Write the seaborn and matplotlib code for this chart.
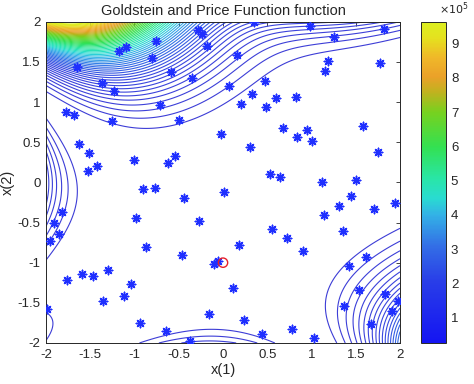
import numpy as np
import pandas as pd
import matplotlib
matplotlib.use("Agg")
import matplotlib.pyplot as plt
from matplotlib.colors import LinearSegmentedColormap, Normalize
import matplotlib.cm as cm
import seaborn as sns

# sample points
px = [-1.646, -1.175, -1.10, -0.753, -0.802, -0.588, -0.282, -0.234, -0.177, -0.354,
      -1.371, -1.235, -0.708, -1.777, -1.68, -1.258, -0.50, -0.019, -1.624, -1.518,
      -1.529, -1.427, -1.009, -0.621, -0.539, -0.907, -0.765, -0.44, 0.011, 0.155,
      0.071, 0.20, 0.354, 0.983, 1.258, 1.816, 1.19, 1.156, 1.778, 0.478,
      0.324, 0.603, 0.821, 0.486, 0.682, 0.949, 0.840, 1.002, 1.582, 1.751,
      0.301, 0.531, 0.648, 1.119, 1.499, 1.446, 1.311, 1.703, 1.944, 1.141,
      1.356, 0.554, 0.72, 0.904, 0.181, -0.102, -0.053, 1.616, 1.42, 0.113,
      1.533, 1.834, 1.974, 1.371, 1.91, 1.676, -0.158, 0.237, 0.437, 0.776,
      1.032, -1.823, -1.906, -1.857, -1.955, -0.986, -0.275, -0.874, -0.463, -1.296,
      -1.589, -1.465, -1.759, -1.043, -1.122, -1.356, -1.985, -0.934, -0.648, -0.373]
py = [1.433, 1.64, 1.69, 1.755, 1.545, 1.371, 1.898, 1.848, 1.702, 1.30,
      1.234, 1.142, 0.96, 0.873, 0.839, 0.765, 0.777, 0.607, 0.478, 0.366,
      0.142, 0.204, 0.279, 0.242, 0.329, -0.086, -0.066, -0.194, -0.123, 1.587,
      1.204, 0.98, 1.99, 1.948, 1.815, 1.91, 1.516, 1.383, 1.487, 1.263,
      1.105, 1.047, 1.067, 0.935, 0.681, 0.656, 0.565, 0.52, 0.698, 0.379,
      0.445, 0.109, 0.067, 0.001, 0.03, -0.167, -0.298, -0.331, -0.252, -0.402,
      -0.601, -0.580, -0.692, -0.85, -0.78, -1.02, -0.983, -0.929, -1.045, -1.311,
      -1.34, -1.386, -1.477, -1.539, -1.598, -1.763, -1.643, -1.714, -1.888, -1.826,
      -1.938, -0.369, -0.51, -0.638, -0.726, -0.448, -0.481, -0.809, -0.904, -1.095,
      -1.145, -1.17, -1.211, -1.261, -1.41, -1.481, -1.577, -1.755, -1.851, -1.979]
best_x = [0.0]
best_y = [-1.0]

xticks = [-2, -1.5, -1, -0.5, 0, 0.5, 1, 1.5, 2]
yticks = [-2, -1.5, -1, -0.5, 0, 0.5, 1, 1.5, 2]
cb_ticks = [1e5, 2e5, 3e5, 4e5, 5e5, 6e5, 7e5, 8e5, 9e5]
cb_labels = ["1", "2", "3", "4", "5", "6", "7", "8", "9"]
cmin, cmax = 2.6e4, 9.64e5
n_levels = 56

def goldstein_price(x, y):
    a = 1 + (x + y + 1) ** 2 * (19 - 14 * x + 3 * x ** 2 - 14 * y + 6 * x * y + 3 * y ** 2)
    b = 30 + (2 * x - 3 * y) ** 2 * (18 - 32 * x + 12 * x ** 2 + 48 * y - 36 * x * y + 27 * y ** 2)
    return a * b

g = np.linspace(-2, 2, 301)
X, Y = np.meshgrid(g, g)
Z = goldstein_price(X, Y)

cmap = LinearSegmentedColormap.from_list("gp", [
    (0.00, (0.08, 0.08, 0.95)),
    (0.19, (0.16, 0.24, 0.91)),
    (0.30, (0.20, 0.43, 0.90)),
    (0.40, (0.20, 0.70, 0.90)),
    (0.45, (0.16, 0.86, 0.82)),
    (0.51, (0.16, 0.90, 0.66)),
    (0.61, (0.20, 0.88, 0.32)),
    (0.72, (0.47, 0.82, 0.12)),
    (0.78, (0.75, 0.70, 0.12)),
    (0.83, (0.92, 0.63, 0.16)),
    (0.89, (0.94, 0.72, 0.16)),
    (0.95, (0.90, 0.88, 0.12)),
    (1.00, (0.86, 0.94, 0.12)),
])
line_cmap = LinearSegmentedColormap.from_list("gpl", [
    (0.00, (0.24, 0.24, 0.84)),
    (0.19, (0.22, 0.28, 0.88)),
    (0.30, (0.20, 0.43, 0.90)),
    (0.40, (0.20, 0.70, 0.90)),
    (0.45, (0.16, 0.86, 0.82)),
    (0.51, (0.16, 0.90, 0.66)),
    (0.61, (0.20, 0.88, 0.32)),
    (0.72, (0.47, 0.82, 0.12)),
    (0.78, (0.75, 0.70, 0.12)),
    (0.83, (0.92, 0.63, 0.16)),
    (0.89, (0.94, 0.72, 0.16)),
    (0.95, (0.90, 0.88, 0.12)),
    (1.00, (0.86, 0.94, 0.12)),
])
norm = Normalize(vmin=cmin, vmax=cmax)

sns.set_style("white")
plt.rcParams['font.family'] = ['Liberation Sans', 'DejaVu Sans']

fig = plt.figure(figsize=(4.74, 3.84), dpi=100)
ax = fig.add_axes([0.097, 0.1068, 0.747, 0.8367])
cax = fig.add_axes([0.888, 0.1068, 0.053, 0.8367])

levels = np.linspace(cmin, cmax, n_levels)
ax.contour(X, Y, Z, levels=levels, cmap=line_cmap, norm=norm, linewidths=0.8)

df = pd.DataFrame({"x1": px, "x2": py})
sns.scatterplot(data=df, x="x1", y="x2", ax=ax, marker=(8, 2, 0), s=36,
                color="#1f2fff", linewidth=1.1, edgecolor="#1f2fff", zorder=3)
ax.scatter(best_x, best_y, s=45, facecolors="none", edgecolors="#e8202a",
           linewidths=1.0, zorder=4)

ax.set_xlim(-2, 2)
ax.set_ylim(-2, 2)
ax.set_xticks(xticks)
ax.set_yticks(yticks)
ax.set_xticklabels([f"{t:g}" for t in xticks])
ax.set_yticklabels([f"{t:g}" for t in yticks])
ax.tick_params(direction="in", length=3, width=0.6, top=True, right=True,
               labelsize=9.5, colors="#262626", pad=4)
for s in ax.spines.values():
    s.set_color("#262626")
    s.set_linewidth(0.7)
ax.set_xlabel("x(1)", fontsize=10.5, color="#262626", labelpad=2)
ax.set_ylabel("x(2)", fontsize=10.5, color="#262626", labelpad=2)
ax.set_title("Goldstein and Price Function function", fontsize=10.5, color="#262626", pad=5)

cb = fig.colorbar(cm.ScalarMappable(norm=norm, cmap=cmap), cax=cax)
cb.set_ticks(cb_ticks)
cb.set_ticklabels(cb_labels)
cb.ax.tick_params(direction="in", length=3, width=0.6, labelsize=9.5, colors="#262626")
cb.outline.set_edgecolor("#262626")
cb.outline.set_linewidth(0.7)
fig.text(0.926, 0.978, r"$\times10^5$", fontsize=8, color="#262626", ha="left", va="center")

fig.savefig("out.png", dpi=100)
